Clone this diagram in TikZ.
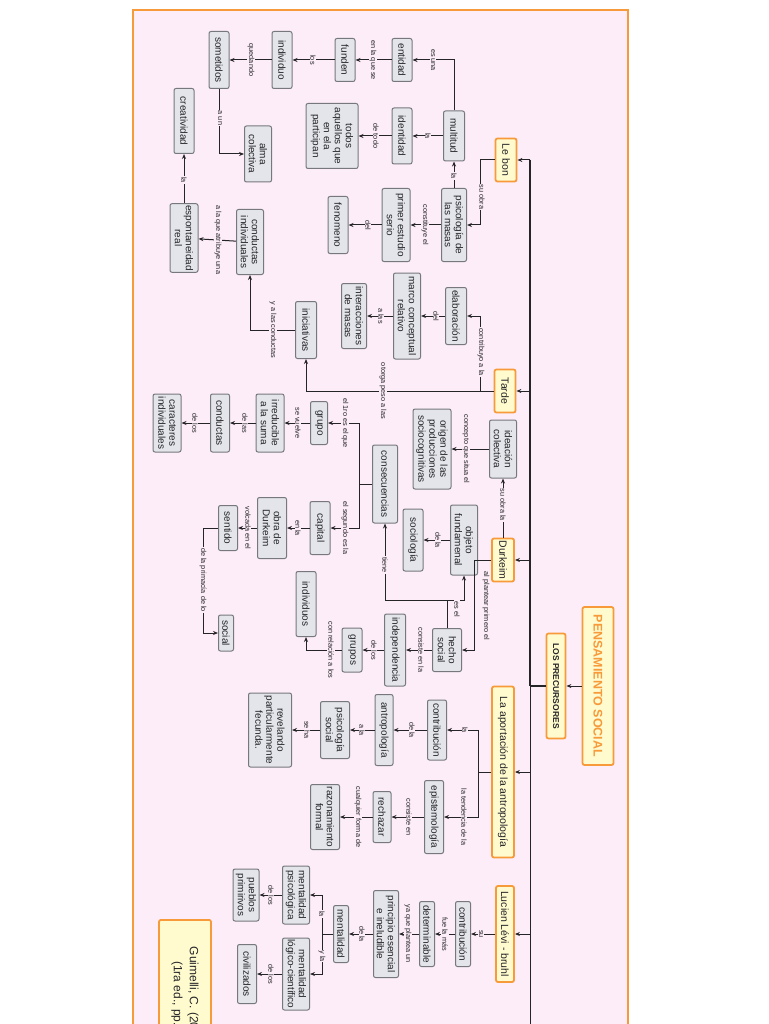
\documentclass[tikz,border=0pt]{standalone}
\usepackage{fontspec}
\setmainfont{Liberation Sans}
\usetikzlibrary{arrows.meta,calc}
\definecolor{bgpink}{HTML}{FDEDF8}
\definecolor{orng}{HTML}{F79A3A}
\definecolor{ylw}{HTML}{FFFBCF}
\definecolor{boxg}{HTML}{E3E5EA}
\definecolor{boxd}{HTML}{76787D}
\definecolor{ink}{HTML}{252528}
\tikzset{
  box/.style={draw=boxd,fill=boxg,rounded corners=2pt,line width=1pt,rotate=-90,
    font=\fontsize{10}{11}\selectfont,align=center,inner sep=1.5pt,text=ink},
  lead/.style={draw=orng,fill=ylw,rounded corners=2pt,line width=1.8pt,rotate=-90,
    font=\fontsize{10.5}{12}\selectfont,align=center,inner sep=1.5pt,text=ink},
  lab/.style={rotate=-90,fill=bgpink,inner sep=0.8pt,font=\fontsize{7.3}{8}\selectfont,text=ink},
  arr/.style={draw=ink,line width=1pt,-{Stealth[length=5pt,width=4pt]}},
  ln/.style={draw=ink,line width=1pt},
  sz/.style 2 args={minimum width=#1pt,minimum height=#2pt}
}
\begin{document}
\begin{tikzpicture}[x=1pt,y=1pt]
\useasboundingbox (0,0) rectangle (768,-1024);
\fill[white] (0,0) rectangle (768,-1024);
\draw[orng,line width=1.8pt,fill=bgpink] (133,-10) rectangle (628,-1040);

% leaders
\node[lead,sz={158}{31},font=\bfseries\fontsize{12.5}{14}\selectfont,text=orng] (title) at (598,-686) {PENSAMIENTO SOCIAL};
\node[lead,sz={105}{19},font=\bfseries\fontsize{8.5}{10}\selectfont] (prec) at (556,-686) {LOS PRECURSORES};
\node[lead,sz={43}{21}] (lebon) at (506,-160) {Le bon};
\node[lead,sz={43}{21}] (tarde) at (505,-391) {Tarde};
\node[lead,sz={43}{22}] (durk) at (503,-560) {Durkeim};
\node[lead,sz={171}{22}] (aport) at (503,-772) {La aportación de la antropología};
\node[lead,sz={96}{18}] (lucien) at (505,-934) {Lucien Lévi - bruhl};
\node[lead,sz={150}{52},anchor=west,align=left,font=\fontsize{12}{16}\selectfont] (guim) at (185,-919) {Guimelli, C. (2004\\\hspace{1.2em}(1ra ed., pp.};

% Le bon
\node[box,sz={43}{20}] (entidad) at (402,-60) {entidad};
\node[box,sz={43}{20}] (funden) at (345,-60) {funden};
\node[box,sz={57}{20}] (individuo) at (282,-60) {individuo};
\node[box,sz={57}{20}] (sometidos) at (219,-60) {sometidos};
\node[box,sz={56}{27}] (alma) at (258,-154) {alma\\colectiva};
\node[box,sz={65}{20}] (creat) at (184,-121) {creatividad};
\node[box,sz={68}{28}] (espont) at (184,-238) {espontaneidad\\real};
\node[box,sz={65}{27}] (condind) at (250,-242) {conductas\\individuales};
\node[box,sz={50}{21}] (multitud) at (454,-136) {multitud};
\node[box,sz={56}{20}] (identidad) at (402,-136) {identidad};
\node[box,sz={65}{52}] (todos) at (332,-136) {todos\\aquellos que\\en ela\\participan};
\node[box,sz={73}{25}] (psico) at (454,-225) {psicología de\\las masas};
\node[box,sz={73}{28}] (primer) at (396,-225) {primer estudio\\serio};
\node[box,sz={57}{20}] (fenom) at (338,-225) {fenomeno};

% Tarde
\node[box,sz={57}{21}] (elab) at (456,-316) {elaboración};
\node[box,sz={86}{27}] (marco) at (407,-316) {marco conceptual\\relativo};
\node[box,sz={65}{25}] (inter) at (354,-316) {interacciones\\de masas};
\node[box,sz={57}{21}] (inic) at (306,-330) {iniciativas};

% Durkeim
\node[box,sz={58}{27}] (idea) at (503,-449) {ideación\\colectiva};
\node[box,sz={80}{38}] (origen) at (432,-449) {origen de las\\producciones\\sociocognitivas};
\node[box,sz={78}{25}] (consec) at (385,-484) {consecuencias};
\node[box,sz={43}{17}] (grupo) at (319,-423) {grupo};
\node[box,sz={58}{28}] (irred) at (270,-423) {irreducible\\a la suma};
\node[box,sz={58}{19}] (condu) at (220,-423) {conductas};
\node[box,sz={58}{28}] (carac) at (167,-423) {caracteres\\individuales};
\node[box,sz={70}{27}] (objeto) at (464,-540) {objeto\\fundamenal};
\node[box,sz={62}{20}] (socio) at (413,-540) {sociología};
\node[box,sz={53}{20}] (capital) at (320,-528) {capital};
\node[box,sz={61}{29}] (obra) at (272,-528) {obra de\\Durkeim};
\node[box,sz={45}{19}] (sentido) at (228,-528) {sentido};
\node[box,sz={36}{15}] (social) at (226,-633) {social};
\node[box,sz={43}{29}] (hecho) at (447,-650) {hecho\\social};
\node[box,sz={72}{21}] (indep) at (395,-650) {independencia};
\node[box,sz={44}{20}] (grupos) at (352,-650) {grupos};
\node[box,sz={65}{20}] (indiv) at (306,-604) {individuos};

% Aportacion
\node[box,sz={60}{19}] (contrib) at (437,-730) {contribución};
\node[box,sz={71}{18}] (antro) at (384,-730) {antropología};
\node[box,sz={57}{29}] (psoc) at (335,-730) {psicología\\social};
\node[box,sz={74}{43}] (revel) at (270,-730) {revelando\\particularmente\\fecunda.};
\node[box,sz={73}{19}] (epist) at (434,-817) {epistemología};
\node[box,sz={51}{18}] (rech) at (382,-817) {rechazar};
\node[box,sz={65}{29}] (razon) at (325,-817) {razonamiento\\formal};

% Lucien
\node[box,sz={65}{15}] (contrib2) at (463,-934) {contribución};
\node[box,sz={65}{15}] (determ) at (427,-934) {determinable};
\node[box,sz={87}{25}] (princ) at (386,-934) {principio esencial\\e ineludible};
\node[box,sz={57}{15}] (mental) at (341,-934) {mentalidad};
\node[box,sz={58}{27}] (mpsi) at (296,-895) {mentalidad\\psicológica};
\node[box,sz={52}{26}] (pueblos) at (246,-895) {pueblos\\primirivos};
\node[box,sz={72}{27}] (mlog) at (296,-974) {mentalidad\\lógico-científico};
\node[box,sz={59}{19}] (civil) at (247,-974) {civilizados};

% spine
\coordinate (sp0) at (530,-160);
\coordinate (sp1) at (530,-391);
\coordinate (sp2) at (530,-560);
\coordinate (spj) at (530,-686);
\coordinate (sp3) at (530,-772);
\coordinate (sp4) at (530,-934);
\coordinate (spE) at (530,-1040);
\draw[ink,line width=2pt] (sp0) -- (spj);
\draw[ln] (spj) -- (spE);
\draw[arr] (title) -- (prec);
\draw[ink,line width=2pt] (prec.south) -- (spj);
\draw[arr] (sp0) -- (lebon);
\draw[arr] (sp1) -- (tarde);
\draw[arr] (sp2) -- (durk);
\draw[arr] (sp3) -- (aport);
\draw[arr] (sp4) -- (lucien);

% Le bon edges
\draw[arr] (lebon.south) -- ++(-14,0) |- (psico);
\node[lab] at (482,-197) {su obra};
\draw[arr] (psico) -- (multitud); \node[lab] at (454,-176) {la};
\draw[arr] (multitud.west) |- (entidad); \node[lab] at (433,-60) {es una};
\draw[arr] (entidad) -- (funden); \node[lab] at (373,-60) {en la que se};
\draw[arr] (funden) -- (individuo); \node[lab] at (313,-60) {los};
\draw[arr] (individuo) -- (sometidos); \node[lab] at (251,-60) {quedando};
\draw[arr] (sometidos.east) |- (alma); \node[lab] at (220,-118) {a un};
\draw[arr] (multitud) -- (identidad); \node[lab] at (428,-136) {la};
\draw[arr] (identidad) -- (todos); \node[lab] at (376,-136) {de todo};
\draw[arr] (psico) -- (primer); \node[lab] at (425,-225) {constituye el};
\draw[arr] (primer) -- (fenom); \node[lab] at (368,-225) {del};
\draw[arr] (condind) -- (espont); \node[lab] at (218,-240) {a la que atribuye una};
\draw[arr] (espont) -- (creat); \node[lab] at (184,-180) {la};

% Tarde edges
\draw[arr] (tarde.south) -- ++(-13,0) |- (elab); \node[lab] at (481,-352) {contribuyo a la};
\draw[arr] (tarde.south) -| (inic); \node[lab] at (383,-391) {otorga peso a las};
\draw[arr] (elab) -- (marco); \node[lab] at (436,-316) {del};
\draw[arr] (marco) -- (inter); \node[lab] at (381,-316) {a las};
\draw[arr] (inic.south) -| (condind); \node[lab] at (273,-330) {y a las conductas};

% Durkeim edges
\draw[arr] (durk.west) -- (idea); \node[lab] at (503,-505) {su obra la};
\draw[arr] (idea) -- (origen); \node[lab] at (466,-449) {concepto que situa el};
\draw[arr] (durk.south) -- ++(-17,0) |- (hecho); \node[lab] at (486,-606) {al plantear primero el};
\coordinate (jh) at (447,-600);
\draw[ln] (hecho.west) -- (jh);
\draw[arr] (jh) -| (objeto); \node[lab] at (457,-609) {es el};
\draw[arr] (jh) -| (consec); \node[lab] at (385,-565) {tiene};
\draw[arr] (objeto) -- (socio); \node[lab] at (438,-540) {de la};
\draw[arr] (hecho) -- (indep); \node[lab] at (421,-650) {consiste en la};
\draw[arr] (indep) -- (grupos); \node[lab] at (374,-650) {de los};
\draw[arr] (grupos.south) -| (indiv); \node[lab] at (331,-650) {con relación a los};
\coordinate (jc) at (359,-484);
\draw[ln] (consec.south) -- (jc);
\draw[arr] (jc) |- (grupo); \node[lab] at (345,-423) {el 1ro es el que};
\draw[arr] (jc) |- (capital); \node[lab] at (345,-528) {el segundo es la};
\draw[arr] (grupo) -- (irred); \node[lab] at (298,-423) {se vuelve};
\draw[arr] (irred) -- (condu); \node[lab] at (245,-423) {de las};
\draw[arr] (condu) -- (carac); \node[lab] at (195,-423) {de los};
\draw[arr] (capital) -- (obra); \node[lab] at (298,-528) {en la};
\draw[arr] (obra) -- (sentido); \node[lab] at (248,-528) {volcada en el};
\draw[arr] (sentido.south) -- ++(-15,0) |- (social); \node[lab] at (203,-580) {de la primacía de lo};

% Aportacion edges
\coordinate (ja) at (478,-772);
\draw[ln] (aport.south) -- (ja);
\draw[arr] (ja) |- (contrib); \node[lab] at (465,-730) {la};
\draw[arr] (ja) |- (epist); \node[lab] at (464,-817) {la tendencia de la};
\draw[arr] (contrib) -- (antro); \node[lab] at (412,-730) {de la};
\draw[arr] (antro) -- (psoc); \node[lab] at (362,-730) {a la};
\draw[arr] (psoc) -- (revel); \node[lab] at (307,-730) {se ha};
\draw[arr] (epist) -- (rech); \node[lab] at (409,-817) {consiste en};
\draw[arr] (rech) -- (razon); \node[lab] at (358,-817) {cualquier forma de};

% Lucien edges
\draw[arr] (lucien) -- (contrib2); \node[lab] at (481,-934) {su};
\draw[arr] (contrib2) -- (determ); \node[lab] at (445,-934) {fue la más};
\draw[arr] (determ) -- (princ); \node[lab] at (408,-934) {ya que plantea un};
\draw[arr] (princ) -- (mental); \node[lab] at (362,-934) {de la};
\coordinate (jm) at (322,-934);
\draw[ln] (mental.south) -- (jm);
\draw[arr] (jm) |- (mpsi); \node[lab] at (322,-914) {la};
\draw[arr] (jm) |- (mlog); \node[lab] at (322,-956) {y la};
\draw[arr] (mpsi) -- (pueblos); \node[lab] at (271,-895) {de los};
\draw[arr] (mlog) -- (civil); \node[lab] at (271,-974) {de los};
\end{tikzpicture}
\end{document}
